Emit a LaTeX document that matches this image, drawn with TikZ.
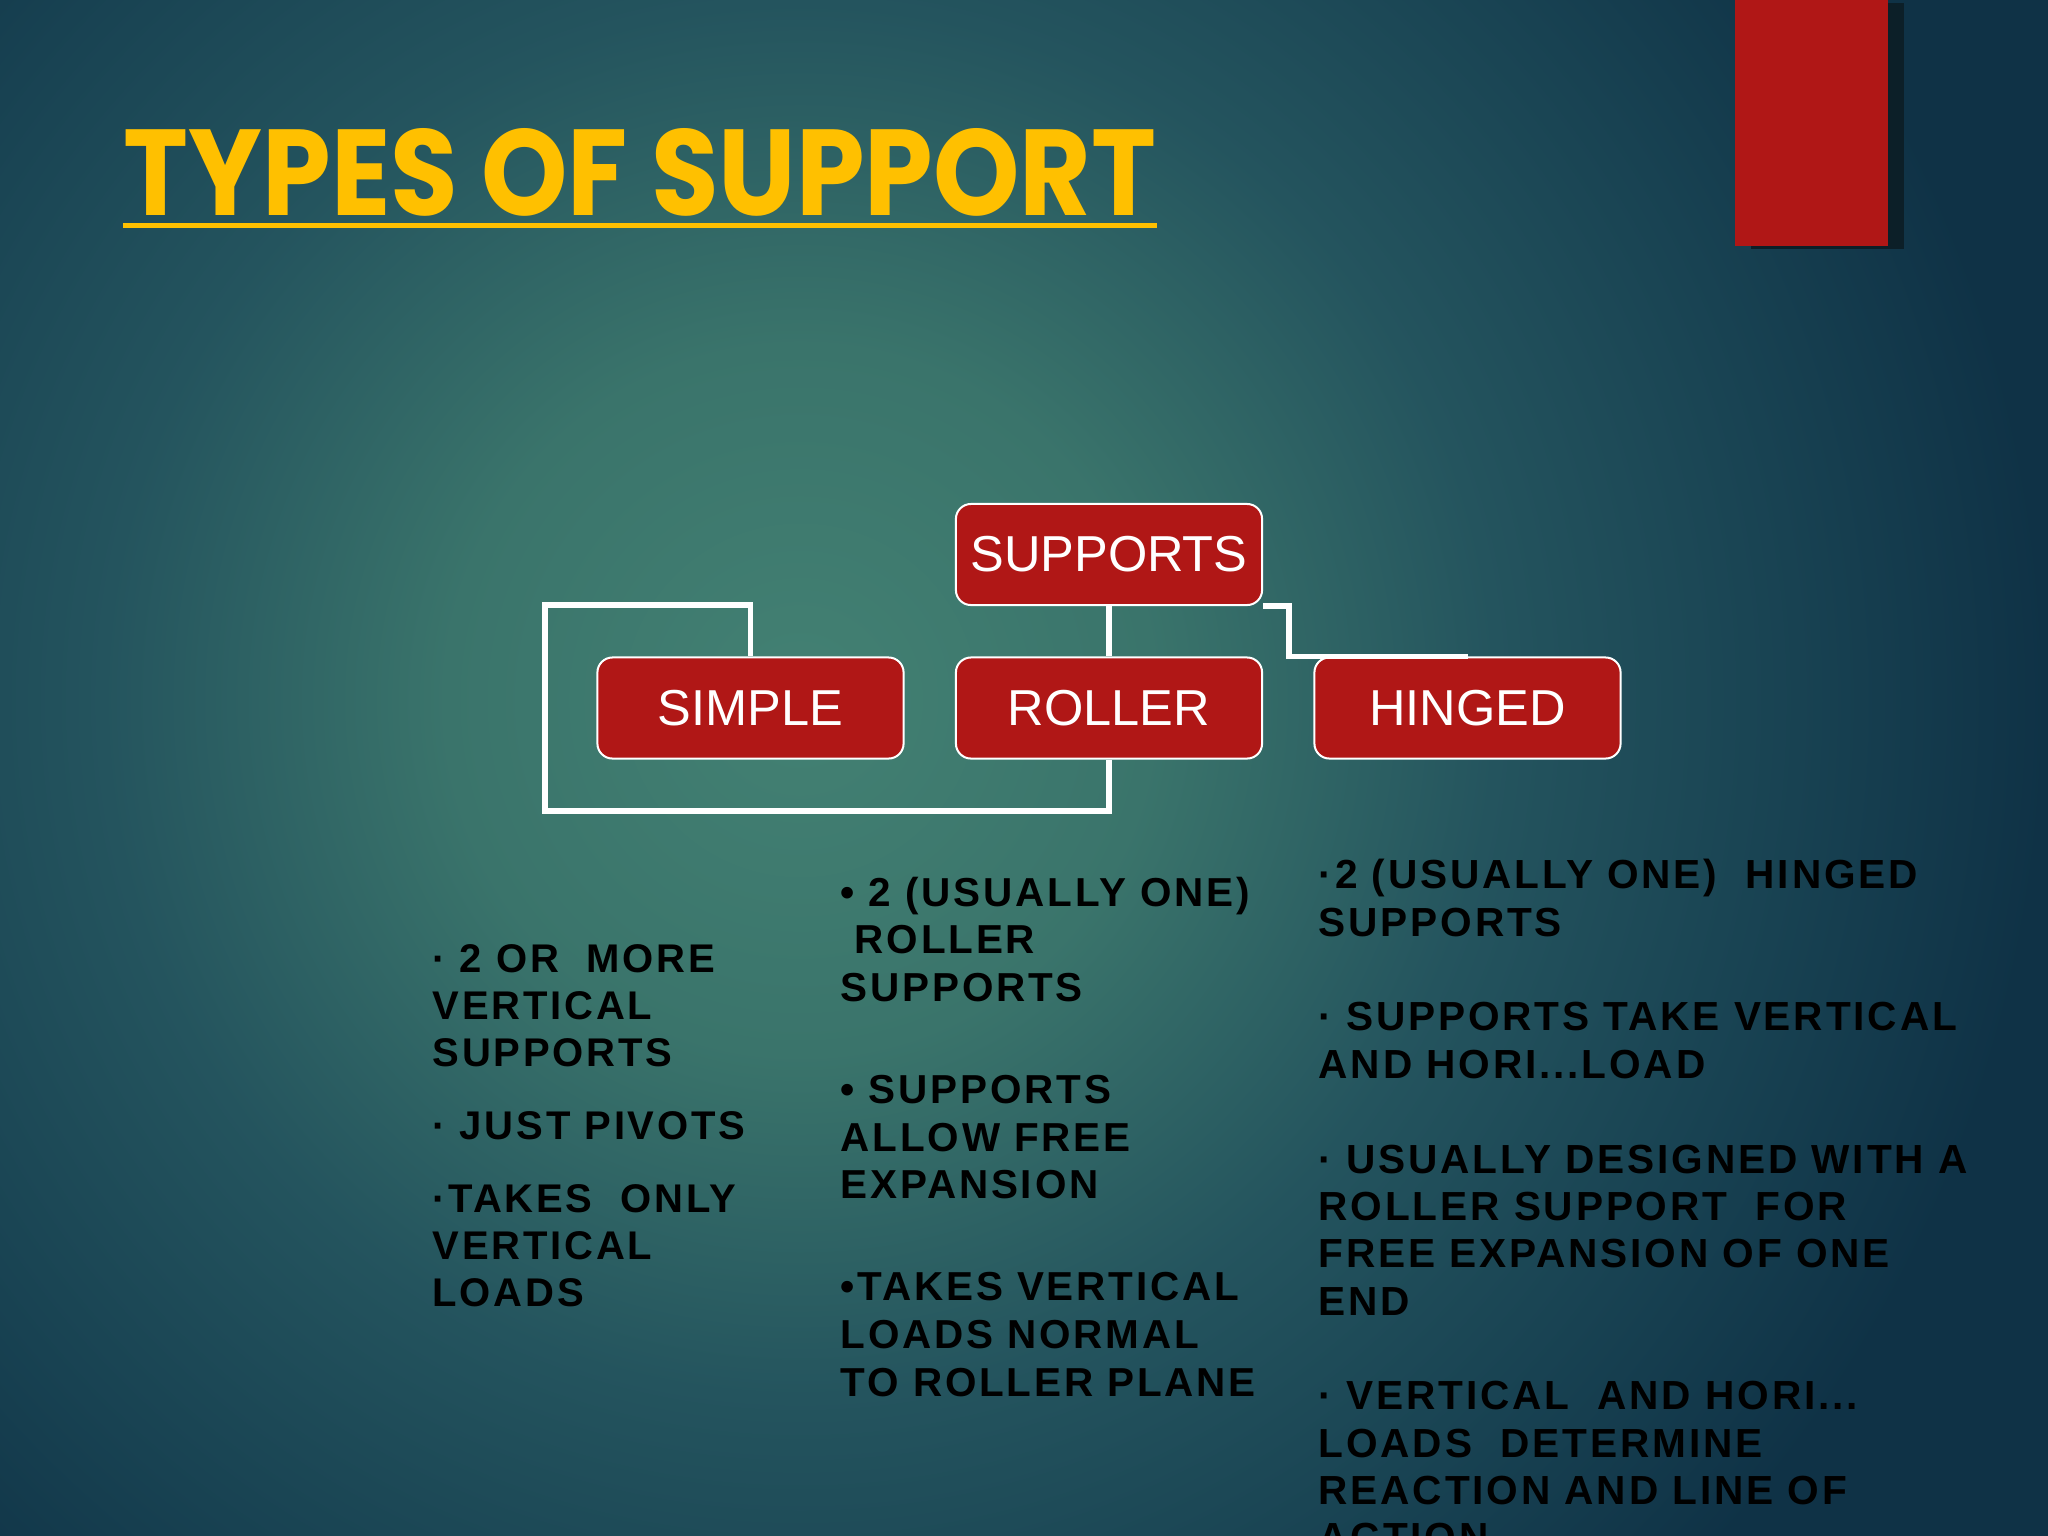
\documentclass[tikz,border=0pt]{standalone}
\usepackage{fontspec}
\setmainfont{Liberation Sans}
\newfontfamily\titlefont{Poppins}
\newfontfamily\bulletfont[LetterSpace=7]{Liberation Sans}
\usepackage{tikz}
\usetikzlibrary{positioning}

\definecolor{slidered}{HTML}{B01716}
\definecolor{slidegold}{HTML}{FFC000}
\definecolor{barshadow}{HTML}{0C1F28}
\definecolor{glowA}{HTML}{438173}
\definecolor{glowB}{HTML}{3A746B}
\definecolor{glowC}{HTML}{24545E}
\definecolor{glowD}{HTML}{184252}
\definecolor{glowE}{HTML}{0F3246}
\pgfdeclareradialshading{slideglow}{\pgfpoint{0bp}{0bp}}{color(0bp)=(glowA); color(3.4bp)=(glowB); color(6.7bp)=(glowC); color(9.6bp)=(glowD); color(12bp)=(glowE); color(50bp)=(glowE)}

\begin{document}
\begin{tikzpicture}[x=0.01cm, y=-0.01cm,
    typebox/.style={draw=white, line width=0.02cm, fill=slidered, rounded corners=0.15cm,
        minimum width=3.06cm, minimum height=1.01cm, inner sep=0, text=white,
        font=\fontsize{14.37pt}{16pt}\selectfont},
    wire/.style={draw=white, line width=0.055cm},
    notes/.style={anchor=north west, inner sep=0, align=left, text=black}]
    % 背景
    \useasboundingbox (0,0) rectangle (2048,1536);
    \clip (0,0) rectangle (2048,1536);
    \shade[shading=slideglow] (800,700) circle (2600);
    \fill[barshadow] (1751,3) rectangle (1904,249);
    \fill[slidered] (1735,-5) rectangle (1888,246);

    % 标题
    \node[anchor=base west, inner sep=0, text=slidegold] (title) at (123,215)
        {\resizebox{10.32cm}{0.87cm}{\titlefont\bfseries TYPES OF SUPPORT}};
    \draw[slidegold, line width=0.05cm] ([yshift=-0.105cm]title.base west) -- ([yshift=-0.105cm]title.base east);

    % 四个方框
    \node[typebox] (sup) at (1109,554.5) {SUPPORTS};
    \node[typebox] (sim) at (750.5,708) {SIMPLE};
    \node[typebox] (rol) at (1109,708) {ROLLER};
    \node[typebox] (hin) at (1467.5,708) {HINGED};

    % 连线
    \draw[wire] (sup.south) -- (rol.north);
    \draw[wire] (sup.south east) -- ++(26,0) |- (hin.north);
    \draw[wire] (rol.south) |- (545,811) -- (545,605) -| (sim.north);

    % 说明文字
    \node[notes, font={\bulletfont\bfseries\fontsize{11.38pt}{13.37pt}\selectfont}] (simtxt) at (432,939)
        {\strut· 2 OR\ \ MORE\\
        VERTICAL\\
        SUPPORTS\\[7.4pt]
        · JUST PIVOTS\\[7.4pt]
        ·TAKES\ \ ONLY\\
        VERTICAL\\
        LOADS};
    \node[notes, font={\bulletfont\bfseries\fontsize{11.5pt}{13.57pt}\selectfont}] (roltxt) at (840,872)
        {\strut• 2 (USUALLY ONE)\\
        \ ROLLER\\
        SUPPORTS\\[15.4pt]
        • SUPPORTS\\
        ALLOW FREE\\
        EXPANSION\\[15.4pt]
        •TAKES VERTICAL\\
        LOADS NORMAL\\
        TO ROLLER PLANE};
    \node[notes, font={\bulletfont\bfseries\fontsize{11.55pt}{13.46pt}\selectfont}] (hintxt) at (1318,855)
        {\strut·2 (USUALLY ONE)\ \ HINGED\\
        SUPPORTS\\[13.5pt]
        · SUPPORTS TAKE VERTICAL\\
        AND HORI...LOAD\\[13.5pt]
        · USUALLY DESIGNED WITH A\\
        ROLLER SUPPORT\ \ FOR\\
        FREE EXPANSION OF ONE\\
        END\\[13.5pt]
        · VERTICAL\ \ AND HORI...\\
        LOADS\ \ DETERMINE\\
        REACTION AND LINE OF\\
        ACTION};
\end{tikzpicture}
\end{document}
